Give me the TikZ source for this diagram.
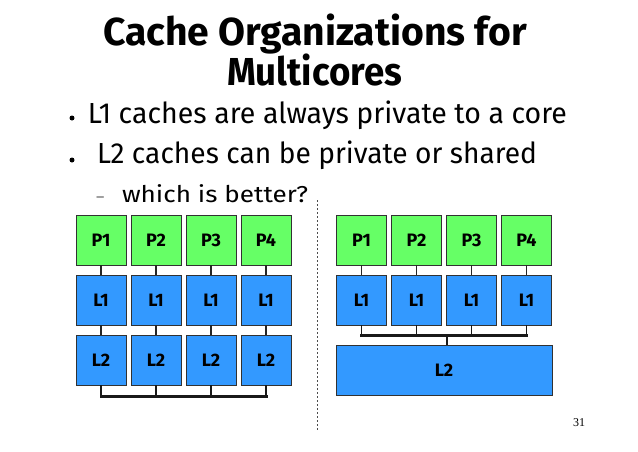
\documentclass[tikz,border=0pt]{standalone}
\usepackage{fontspec}
\setmainfont{Fira Sans}
\newfontfamily\numfont{Liberation Serif}
\definecolor{pgreen}{RGB}{102,255,102}
\definecolor{cblue}{RGB}{51,153,255}
\definecolor{edge}{RGB}{50,50,50}
\begin{document}
\begin{tikzpicture}[x=1pt,y=-1pt,
  txt/.style={inner sep=0pt,outer sep=0pt,anchor=base west},
  box/.style={draw=edge,line width=0.9pt,minimum width=50pt,minimum height=50pt,inner sep=0pt,font=\fontsize{18}{18}\selectfont\bfseries},
  proc/.style={box,fill=pgreen},
  cache/.style={box,fill=cblue},
  thin/.style={line width=1.3pt,draw=black!85},
  drop/.style={line width=1.6pt,draw=black!90},
  bus/.style={line width=3pt,draw=black!90,line cap=rect}]
\useasboundingbox (0,0) rectangle (638,451);
% title
\node[txt] (t1) at (103,45) {\resizebox{424pt}{\height}{\fontsize{39}{39}\selectfont\bfseries Cache Organizations for}};
\node[txt] (t2) at (227,85) {\resizebox{175pt}{\height}{\fontsize{39}{39}\selectfont\bfseries Multicores}};
% bullets
\fill (72,118) circle (2.5);
\fill (72,160) circle (2.5);
\node[txt] (b1) at (88,123) {\resizebox{479pt}{\height}{\fontsize{29}{29}\selectfont L1 caches are always private to a core}};
\node[txt] (b2) at (97,163) {\resizebox{440pt}{\height}{\fontsize{29}{29}\selectfont L2 caches can be private or shared}};
\node[txt,text=black!60] (d1) at (96,202) {\fontsize{16}{16}\selectfont –};
\node[txt] (b3) at (122,202) {\resizebox{186pt}{\height}{\fontsize{23}{23}\selectfont which is better?}};
% divider
\coordinate (dv1) at (317,200);
\coordinate (dv2) at (317,430);
\draw[dash pattern=on 2pt off 2pt,line width=0.7pt,black!70] (dv1) -- (dv2);
% left: private L2
\foreach \i/\x in {1/101,2/156,3/211,4/266}{
  \node[proc] (lp\i) at (\x,240) {P\i};
  \node[cache] (ll\i) at (\x,300) {L1};
  \node[cache] (lm\i) at (\x,360) {L2};
  \draw[thin] (lp\i) -- (ll\i);
  \draw[thin] (ll\i) -- (lm\i);
}
\coordinate (lbus) at (0,396);
\foreach \i in {1,...,4}{\draw[drop] (lm\i.south) -- (lm\i.south |- lbus);}
\draw[bus] (lm1.south |- lbus) -- (lm4.south |- lbus);
% right: shared L2
\foreach \i/\x in {1/361.5,2/416.5,3/471.5,4/526.5}{
  \node[proc] (rp\i) at (\x,240) {P\i};
  \node[cache] (rl\i) at (\x,300) {L1};
  \draw[thin] (rp\i) -- (rl\i);
}
\node[cache,minimum width=216pt] (rm) at (444,370) {L2};
\coordinate (rbus) at (0,335);
\foreach \i in {1,...,4}{\draw[drop] (rl\i.south) -- (rl\i.south |- rbus);}
\draw[bus] (rl1.south |- rbus) -- (rl4.south |- rbus);
\coordinate (rtap) at (447,335);
\draw[drop] (rtap) -- (rtap |- rm.north);
% page number
\node[txt] (pg) at (573,426) {\numfont\fontsize{12}{12}\selectfont 31};
\end{tikzpicture}
\end{document}
